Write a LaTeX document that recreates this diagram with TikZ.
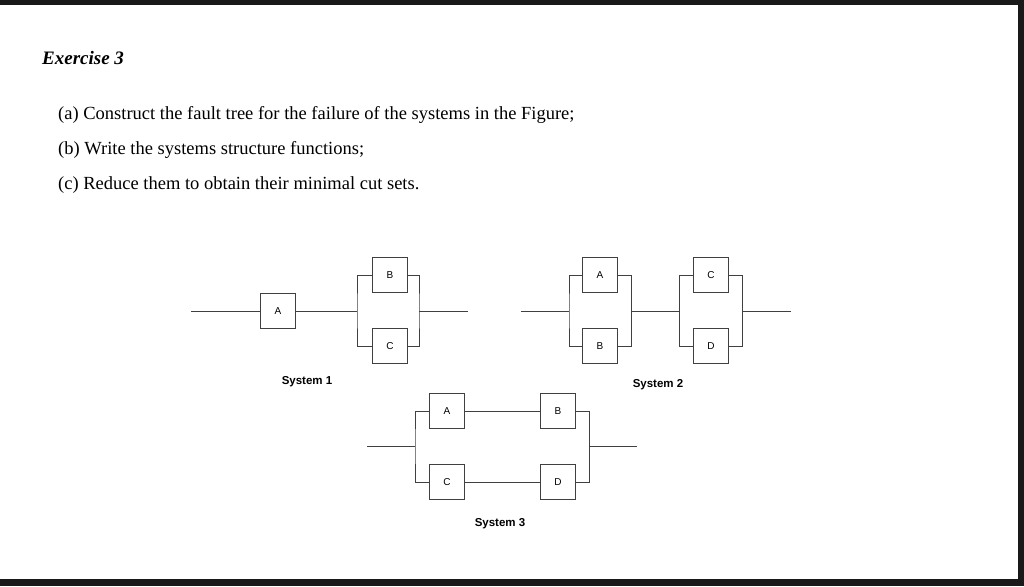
\documentclass[tikz,border=0pt]{standalone}
\usepackage{fontspec}
\setmainfont{Liberation Serif}
\newfontfamily\diagfont{Liberation Sans}
\tikzset{bl/.style = {rectangle, draw=black!75, semithick, minimum width=35pt, minimum height=35pt, inner sep=0pt, font=\diagfont\fontsize{10}{11}\selectfont},
           ln/.style = {draw=black!75, semithick},
           sys/.style = {font=\diagfont\bfseries\fontsize{11.5}{12}\selectfont},
           tx/.style = {anchor=west, inner sep=0pt, font=\fontsize{18.5}{21}\selectfont}}
\begin{document}
\begin{tikzpicture}[x=1pt, y=-1pt]
    \useasboundingbox (0,0) rectangle (1024,586);
    \fill[black!90] (0,0) rectangle (1024,5);
    \fill[black!90] (1018,0) rectangle (1024,586);
    \fill[black!90] (0,579) rectangle (1024,586);
    \node[anchor=west, inner sep=0pt, font=\bfseries\itshape\fontsize{19}{22}\selectfont] (ttl) at (42,58) {Exercise 3};
    \node[tx] (ta) at (58,115) {(a) Construct the fault tree for the failure of the systems in the Figure;};
    \node[tx] (tb) at (58,150) {(b) Write the systems structure functions;};
    \node[tx] (tc) at (58,185) {(c) Reduce them to obtain their minimal cut sets.};
    % System 1
    \coordinate (p1) at (191,311); \coordinate (p2) at (357,311);
    \coordinate (p3) at (419,311); \coordinate (p4) at (468,311);
    \node[bl] (a1) at (278,311) {A};
    \node[bl] (b1) at (390,275) {B}; \node[bl] (c1) at (390,346) {C};
    \draw[ln] (p1) -- (a1) -- (p2);
    \draw[ln] (b1.west) -| (p2) |- (c1.west);
    \draw[ln] (b1.east) -| (p3) |- (c1.east);
    \draw[ln] (p3) -- (p4);
    \node[sys] (s1) at (307,382) {System 1};
    % System 2
    \coordinate (q1) at (521,311); \coordinate (q2) at (569,311);
    \coordinate (q3) at (631,311); \coordinate (q4) at (679,311);
    \coordinate (q5) at (742,311); \coordinate (q6) at (791,311);
    \node[bl] (a2) at (600,275) {A}; \node[bl] (b2) at (600,346) {B};
    \node[bl] (c2) at (711,275) {C}; \node[bl] (d2) at (711,346) {D};
    \draw[ln] (q1) -- (q2); \draw[ln] (q3) -- (q4); \draw[ln] (q5) -- (q6);
    \draw[ln] (a2.west) -| (q2) |- (b2.west);
    \draw[ln] (a2.east) -| (q3) |- (b2.east);
    \draw[ln] (c2.west) -| (q4) |- (d2.west);
    \draw[ln] (c2.east) -| (q5) |- (d2.east);
    \node[sys] (s2) at (658,385) {System 2};
    % System 3
    \coordinate (r1) at (367,446); \coordinate (r2) at (415,446);
    \coordinate (r3) at (589,446); \coordinate (r4) at (637,446);
    \node[bl] (a3) at (447,411) {A}; \node[bl] (b3) at (558,411) {B};
    \node[bl] (c3) at (447,482) {C}; \node[bl] (d3) at (558,482) {D};
    \draw[ln] (r1) -- (r2); \draw[ln] (r3) -- (r4);
    \draw[ln] (a3) -- (b3); \draw[ln] (c3) -- (d3);
    \draw[ln] (a3.west) -| (r2) |- (c3.west);
    \draw[ln] (b3.east) -| (r3) |- (d3.east);
    \node[sys] (s3) at (500,524) {System 3};
\end{tikzpicture}
\end{document}
